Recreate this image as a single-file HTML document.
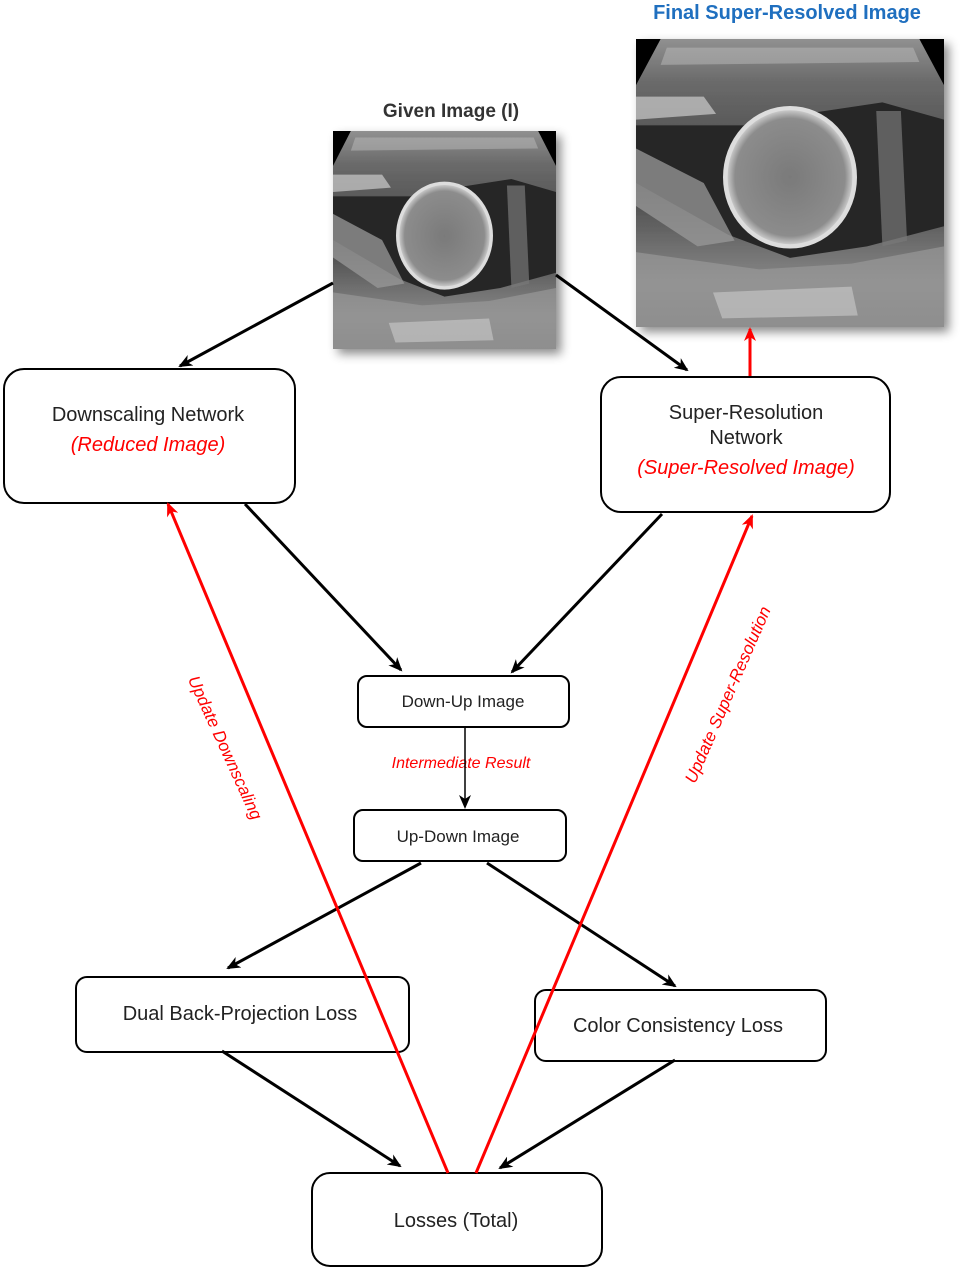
<!DOCTYPE html>
<html><head><meta charset="utf-8"><style>
html,body{margin:0;padding:0;background:#fff;}
svg{display:block;}
text{font-family:"Liberation Sans",sans-serif;}
</style></head><body>
<svg width="968" height="1270" viewBox="0 0 968 1270" xmlns="http://www.w3.org/2000/svg">
<defs>
<marker id="ab" markerWidth="14" markerHeight="14" refX="12" refY="7" orient="auto" markerUnits="userSpaceOnUse"><path d="M0,1 L14,7 L0,13 L4,7 z" fill="#000"/></marker>
<marker id="ar" markerWidth="14" markerHeight="14" refX="12" refY="7" orient="auto" markerUnits="userSpaceOnUse"><path d="M0,1 L14,7 L0,13 L4,7 z" fill="#f00"/></marker>
<filter id="sh" x="-10%" y="-10%" width="130%" height="130%"><feDropShadow dx="5" dy="5" stdDeviation="5" flood-color="#000" flood-opacity="0.45"/></filter>
<radialGradient id="hd" cx="50%" cy="50%" r="50%"><stop offset="0" stop-color="#7a7a7a"/><stop offset="0.85" stop-color="#8c8c8c"/><stop offset="1" stop-color="#d8d8d8"/></radialGradient>
<linearGradient id="bg1" x1="0" y1="0" x2="0" y2="1"><stop offset="0" stop-color="#909090"/><stop offset="0.15" stop-color="#6a6a6a"/><stop offset="0.5" stop-color="#444"/><stop offset="0.85" stop-color="#888"/><stop offset="1" stop-color="#777"/></linearGradient>
<symbol id="us" viewBox="0 0 100 100" preserveAspectRatio="none">
<rect width="100" height="100" fill="#000"/>
<path d="M8,0 L92,0 L100,16 L100,100 L0,100 L0,16 z" fill="url(#bg1)"/>
<path d="M10,3 L90,3 L92,8 L8,9 z" fill="#bbb" opacity="0.5"/>
<path d="M0,20 L22,20 L26,26 L0,28 z" fill="#ccc" opacity="0.7"/>
<path d="M0,30 L35,30 L55,26 L80,22 L100,28 L100,65 L75,72 L50,76 L30,68 L0,50 z" fill="#262626"/>
<path d="M0,38 L22,50 L32,70 L20,72 L0,58 z" fill="#999" opacity="0.75"/>
<path d="M78,25 L86,25 L88,70 L80,72 z" fill="#777" opacity="0.7"/>
<ellipse cx="50" cy="48" rx="21" ry="24" fill="url(#hd)" stroke="#ddd" stroke-width="1.5"/>
<path d="M0,74 L40,80 L70,78 L100,72 L100,100 L0,100 z" fill="#999" opacity="0.7"/>
<path d="M25,88 L70,86 L72,96 L28,97 z" fill="#ccc" opacity="0.6"/>
</symbol>
</defs>

<text x="787" y="19" font-size="20" font-weight="bold" fill="#1f6fbf" text-anchor="middle">Final Super-Resolved Image</text>
<use href="#us" x="636" y="39" width="308" height="288" filter="url(#sh)"/>

<text x="451" y="117" font-size="19" font-weight="bold" fill="#333" text-anchor="middle">Given Image (I)</text>
<use href="#us" x="333" y="131" width="223" height="218" filter="url(#sh)"/>

<g fill="none" stroke="#000" stroke-width="2">
<rect x="4" y="369" width="291" height="134" rx="20"/>
<rect x="601" y="377" width="289" height="135" rx="20"/>
<rect x="358" y="676" width="211" height="51" rx="9"/>
<rect x="354" y="810" width="212" height="51" rx="9"/>
<rect x="76" y="977" width="333" height="75" rx="11"/>
<rect x="535" y="990" width="291" height="71" rx="11"/>
<rect x="312" y="1173" width="290" height="93" rx="18"/>
</g>

<g font-size="20" fill="#222" text-anchor="middle">
<text x="148" y="421">Downscaling Network</text>
<text x="746" y="419">Super-Resolution</text>
<text x="746" y="444">Network</text>
<text x="463" y="707" font-size="17">Down-Up Image</text>
<text x="458" y="842" font-size="17">Up-Down Image</text>
<text x="240" y="1020">Dual Back-Projection Loss</text>
<text x="678" y="1032">Color Consistency Loss</text>
<text x="456" y="1227">Losses (Total)</text>
</g>
<g font-size="20" fill="#f00" font-style="italic" text-anchor="middle">
<text x="148" y="451">(Reduced Image)</text>
<text x="746" y="474">(Super-Resolved Image)</text>
<text x="461" y="768" font-size="16">Intermediate Result</text>
<text transform="translate(220,750) rotate(65.5)" font-size="17">Update Downscaling</text>
<text transform="translate(733,697) rotate(-66.5)" font-size="17">Update Super-Resolution</text>
</g>

<g stroke="#000" stroke-width="3" marker-end="url(#ab)">
<line x1="333" y1="283" x2="180" y2="366"/>
<line x1="556" y1="275" x2="687" y2="370"/>
<line x1="245" y1="504" x2="401" y2="670"/>
<line x1="662" y1="514" x2="512" y2="672"/>
<line x1="421" y1="863" x2="228" y2="968"/>
<line x1="487" y1="863" x2="675" y2="986"/>
<line x1="222" y1="1051" x2="400" y2="1166"/>
<line x1="675" y1="1060" x2="500" y2="1168"/>
</g>
<line x1="465" y1="727" x2="465" y2="807" stroke="#000" stroke-width="1.5" marker-end="url(#ab)"/>

<g stroke="#f00" stroke-width="3" marker-end="url(#ar)">
<line x1="750" y1="376" x2="750" y2="329"/>
<line x1="448" y1="1173" x2="168" y2="504"/>
<line x1="476" y1="1173" x2="752" y2="516"/>
</g>
</svg>
</body></html>
